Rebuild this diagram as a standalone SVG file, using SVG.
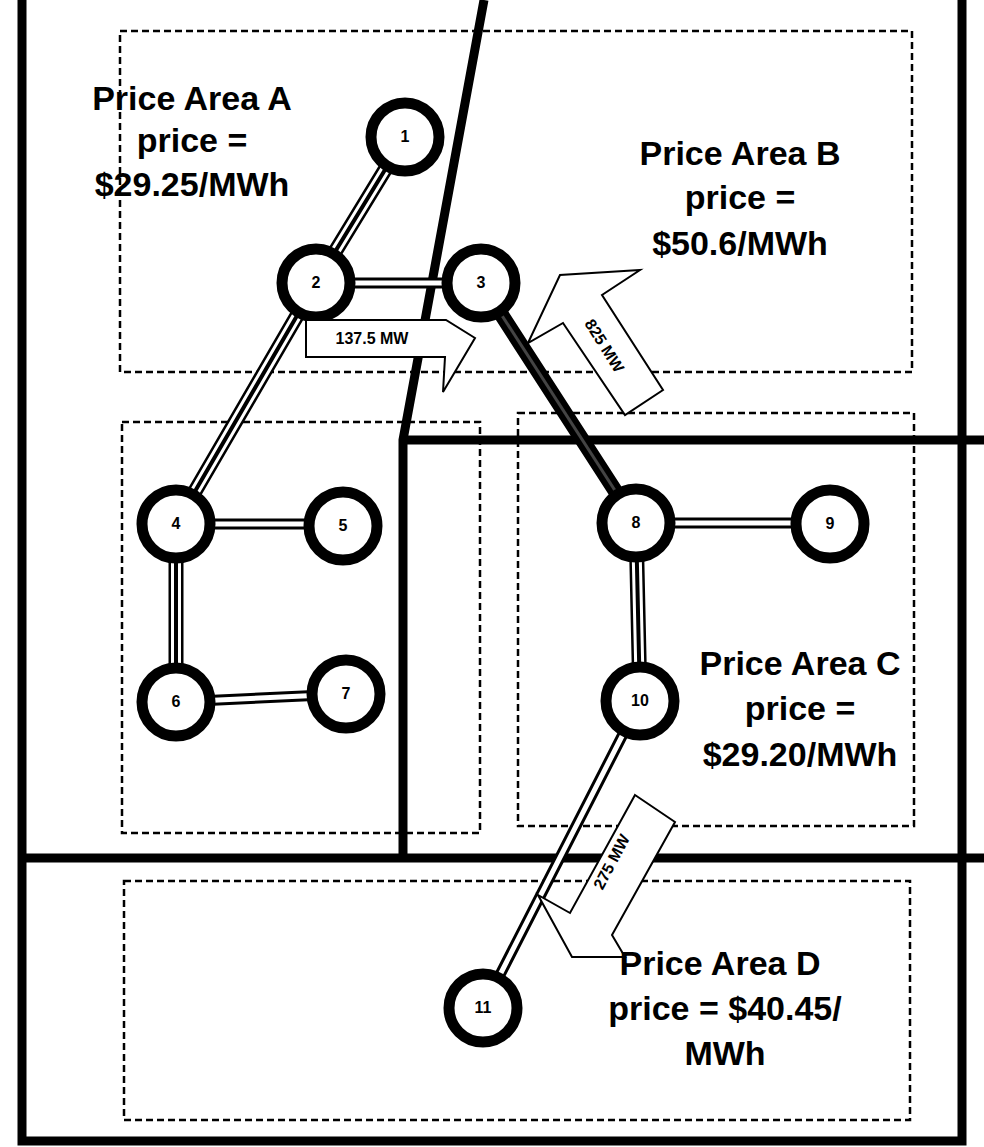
<svg xmlns="http://www.w3.org/2000/svg" width="984" height="1147" viewBox="0 0 984 1147">
<style>
.b{fill:none;stroke:#000;stroke-width:9}
.d{fill:none;stroke:#000;stroke-width:2.5;stroke-dasharray:7 4}
.n circle{fill:#fff;stroke:#000;stroke-width:11}
.n text{font-family:"Liberation Sans",Arial,sans-serif;font-weight:bold;font-size:16px;text-anchor:middle}
.t{font-family:"Liberation Sans",Arial,sans-serif;font-weight:bold;font-size:34px;text-anchor:middle}
.ar{fill:#fff;stroke:#000;stroke-width:2}
.at{font-family:"Liberation Sans",Arial,sans-serif;font-weight:bold;font-size:16px;text-anchor:middle}
</style>
<rect width="984" height="1147" fill="#fff"/>
<g id="borders">
<path class="b" d="M22 0V1141H962V0"/>
<path class="b" d="M484 0L403 440V858"/>
<path class="b" d="M400 440H984M22 858H984"/>
</g>
<g id="areas">
<rect class="d" x="120" y="31" width="792" height="341"/>
<rect class="d" x="122" y="422" width="358" height="411"/>
<rect class="d" x="518" y="413" width="396" height="413"/>
<rect class="d" x="124" y="881" width="786" height="239"/>
</g>
<g id="connectors" stroke="#000" fill="none">
<g stroke-width="15"><path d="M405 137L316 283M316 283L176 524M176 524V702M636 523L640 701M481 283L636 523"/></g>
<g stroke="#fff" stroke-width="10"><path d="M405 137L316 283M316 283L176 524M176 524V702M636 523L640 701"/></g>
<g stroke-width="4"><path d="M405 137L316 283M316 283L176 524M176 524V702M636 523L640 701"/></g>
<path stroke="#444" stroke-width="3" d="M481 283L636 523"/>
<g stroke-width="11"><path d="M316 283H481M176 524H343M176 702L346 694M636 523H830M640 701L483 1008"/></g>
<g stroke="#fff" stroke-width="5"><path d="M316 283H481M176 524H343M176 702L346 694M636 523H830M640 701L483 1008"/></g>
</g>
<g id="n1" class="n"><circle cx="405" cy="137" r="34"/><text x="405" y="142">1</text></g>
<g id="n2" class="n"><circle cx="316" cy="283" r="34"/><text x="316" y="288">2</text></g>
<g id="n3" class="n"><circle cx="481" cy="283" r="34"/><text x="481" y="288">3</text></g>
<g id="n4" class="n"><circle cx="176" cy="524" r="34"/><text x="176" y="529">4</text></g>
<g id="n5" class="n"><circle cx="343" cy="526" r="34"/><text x="343" y="531">5</text></g>
<g id="n6" class="n"><circle cx="176" cy="702" r="34"/><text x="176" y="707">6</text></g>
<g id="n7" class="n"><circle cx="346" cy="694" r="34"/><text x="346" y="699">7</text></g>
<g id="n8" class="n"><circle cx="636" cy="523" r="34"/><text x="636" y="528">8</text></g>
<g id="n9" class="n"><circle cx="830" cy="524" r="34"/><text x="830" y="529">9</text></g>
<g id="n10" class="n"><circle cx="640" cy="701" r="34"/><text x="640" y="706">10</text></g>
<g id="n11" class="n"><circle cx="483" cy="1008" r="34"/><text x="483" y="1013">11</text></g>
<g id="flow1">
<polygon class="ar" points="306,320 446,320 475,338 443,392 445,357 306,357"/>
<text class="at" x="372" y="344">137.5 MW</text>
</g>
<g id="flow2">
<polygon class="ar" points="528,343 560,275 640,270 602,295 663,390 625,415 563,323"/>
<text class="at" transform="translate(604,346) rotate(58)" x="0" y="5">825 MW</text>
</g>
<g id="flow3">
<polygon class="ar" points="635,795 675,822 612,935 625,957 572,957 538,895 570,913"/>
<text class="at" transform="translate(612,862) rotate(-62)" x="0" y="5">275 MW</text>
</g>
<g id="labels">
<text class="t" x="192" y="110">Price Area A</text>
<text class="t" x="192" y="152">price =</text>
<text class="t" x="192" y="196">$29.25/MWh</text>
<text class="t" x="740" y="165">Price Area B</text>
<text class="t" x="740" y="209">price =</text>
<text class="t" x="740" y="255">$50.6/MWh</text>
<text class="t" x="800" y="675">Price Area C</text>
<text class="t" x="800" y="720">price =</text>
<text class="t" x="800" y="766">$29.20/MWh</text>
<text class="t" x="720" y="975">Price Area D</text>
<text class="t" x="725" y="1020">price = $40.45/</text>
<text class="t" x="725" y="1065">MWh</text>
</g>
</svg>
